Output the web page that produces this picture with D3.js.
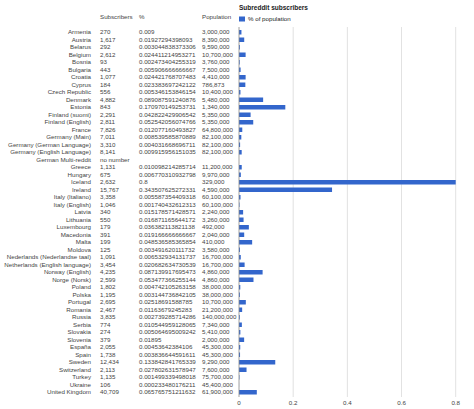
<!DOCTYPE html>
<html>
<head>
<meta charset="utf-8">
<script src="https://cdn.jsdelivr.net/npm/d3@7"></script>
<style>
  body { margin: 0; background: #fff; }
  text { font-family: "Liberation Sans", Arial, sans-serif; }
</style>
</head>
<body>
<svg width="474" height="409"></svg>
<script>
const countries = ["Armenia", "Austria", "Belarus", "Belgium", "Bosnia", "Bulgaria", "Croatia", "Cyprus",
    "Czech Republic", "Denmark", "Estonia", "Finland (suomi)", "Finland (English)", "France", "Germany (Main)",
    "Germany (German Language)", "Germany (English Language)", "German Multi-reddit", "Greece", "Hungary",
    "Iceland", "Ireland", "Italy (Italiano)", "Italy (English)", "Latvia", "Lithuania", "Luxembourg",
    "Macedonia", "Malta", "Moldova", "Nederlands (Nederlandse taal)", "Netherlands (English language)",
    "Norway (English)", "Norge (Norsk)", "Poland", "Polska", "Portugal", "Romania", "Russia", "Serbia",
    "Slovakia", "Slovenia", "España", "Spain", "Sweden", "Switzerland", "Turkey", "Ukraine", "United Kingdom"];

const subscribers = ["270", "1,617", "292", "2,612", "93", "443", "1,077", "184", "556", "4,882", "843",
    "2,291", "2,811", "7,826", "7,011", "3,310", "8,141", "no number", "1,131", "675", "2,632", "15,767",
    "3,358", "1,046", "340", "550", "179", "391", "199", "125", "1,091", "3,454", "4,235", "2,599", "1,802",
    "1,195", "2,695", "2,467", "3,835", "774", "274", "379", "2,055", "1,738", "12,434", "2,113", "1,135",
    "106", "40,709"];

const percents = ["0.009", "0.01927294398093", "0.003044838373306", "0.024411214953271", "0.002473404255319",
    "0.005906666666667", "0.024421768707483", "0.023383697242122", "0.005346153846154", "0.089087591240876",
    "0.170970149253731", "0.042822429906542", "0.052542056074766", "0.012077160493827", "0.008539585870889",
    "0.004031668696711", "0.009915956151035", "", "0.010098214285714", "0.006770310932798", "0.8",
    "0.343507625272331", "0.005587354409318", "0.001740432612313", "0.015178571428571", "0.016871165644172",
    "0.036382113821138", "0.019166666666667", "0.048536585365854", "0.003491620111732", "0.006532934131737",
    "0.020682634730539", "0.087139917695473", "0.053477366255144", "0.004742105263158", "0.003144736842105",
    "0.02518691588785", "0.01163679245283", "0.002739285714286", "0.010544959128065", "0.005064695009242",
    "0.01895", "0.00453642384106", "0.003836644591611", "0.133842841765339", "0.027802631578947",
    "0.001499339498018", "0.000233480176211", "0.065765751211632"];

const populations = ["3,000,000", "8,390,000", "9,590,000", "10,700,000", "3,760,000", "7,500,000",
    "4,410,000", "786,873", "10,400,000", "5,480,000", "1,340,000", "5,350,000", "5,350,000", "64,800,000",
    "82,100,000", "82,100,000", "82,100,000", "", "11,200,000", "9,970,000", "329,000", "4,590,000",
    "60,100,000", "60,100,000", "2,240,000", "3,260,000", "492,000", "2,040,000", "410,000", "3,580,000",
    "16,700,000", "16,700,000", "4,860,000", "4,860,000", "38,000,000", "38,000,000", "10,700,000",
    "21,200,000", "140,000,000", "7,340,000", "5,410,000", "2,000,000", "45,300,000", "45,300,000",
    "9,290,000", "7,600,000", "75,700,000", "45,400,000", "61,900,000"];

const headers = ["Subscribers", "%", "Population"];
const xTicks = [0, 0.2, 0.4, 0.6, 0.8];

const rows = countries.map((c, i) => ({
    country: c,
    subs: subscribers[i],
    pct: percents[i],
    pop: populations[i],
    value: percents[i] === "" ? null : +percents[i]
}));

const svg = d3.select("svg");
const textColor = "#444";
const fontSize = 6.2;

const y = d3.scaleBand()
    .domain(countries)
    .range([28.5, 396])
    .paddingInner(0.4)
    .paddingOuter(0.2);

const x = d3.scaleLinear()
    .domain([0, 0.8])
    .range([239, 455.7]);

// table
const colX = [100, 139, 202];
svg.selectAll("text.header")
    .data(headers)
    .join("text")
    .attr("class", "header")
    .attr("x", (d, i) => colX[i])
    .attr("y", 19)
    .attr("font-size", fontSize)
    .attr("fill", textColor)
    .text(d => d);

const row = svg.append("g").selectAll("g")
    .data(rows)
    .join("g")
    .attr("transform", d => `translate(0,${y(d.country) + y.bandwidth() / 2 + 2})`)
    .attr("font-size", fontSize)
    .attr("fill", textColor);

row.append("text").attr("x", 91).attr("text-anchor", "end").text(d => d.country);
row.append("text").attr("x", colX[0]).text(d => d.subs);
row.append("text").attr("x", colX[1]).text(d => d.pct);
row.append("text").attr("x", colX[2]).text(d => d.pop);

// chart title and legend
svg.append("text")
    .attr("x", 239).attr("y", 10)
    .attr("font-size", 6.5)
    .attr("font-weight", "bold")
    .attr("fill", "#222")
    .text("Subreddit subscribers");

svg.append("rect")
    .attr("x", 239).attr("y", 16.5)
    .attr("width", 6).attr("height", 5)
    .attr("fill", "#3366cc");

svg.append("text")
    .attr("x", 248).attr("y", 21)
    .attr("font-size", fontSize)
    .attr("fill", "#222")
    .text("% of population");

// gridlines
svg.append("g").selectAll("line")
    .data(xTicks.slice(1))
    .join("line")
    .attr("x1", d => x(d)).attr("x2", d => x(d))
    .attr("y1", 27).attr("y2", 397)
    .attr("stroke", "#d9d9d9")
    .attr("stroke-width", 0.8);

// bars
svg.append("g").selectAll("rect")
    .data(rows.filter(d => d.value !== null))
    .join("rect")
    .attr("x", x(0))
    .attr("y", d => y(d.country))
    .attr("width", d => x(d.value) - x(0))
    .attr("height", y.bandwidth())
    .attr("fill", "#3366cc");

// zero axis
svg.append("line")
    .attr("x1", x(0)).attr("x2", x(0))
    .attr("y1", 27).attr("y2", 397)
    .attr("stroke", "#888")
    .attr("stroke-width", 0.8);

// x tick labels
svg.append("g").selectAll("text")
    .data(xTicks)
    .join("text")
    .attr("x", d => x(d))
    .attr("y", 405)
    .attr("text-anchor", "middle")
    .attr("font-size", fontSize)
    .attr("fill", textColor)
    .text(d => d3.format("")(d));
</script>
</body>
</html>
